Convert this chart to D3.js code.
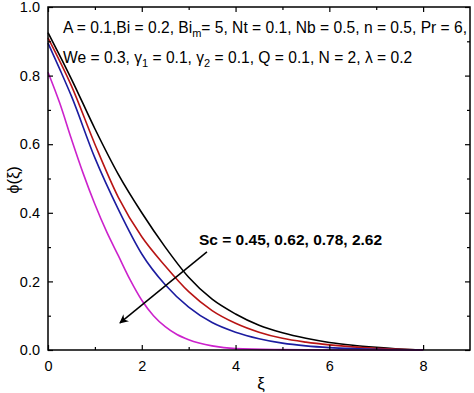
<!DOCTYPE html>
<html>
<head>
<meta charset="utf-8">
<script src="https://cdn.jsdelivr.net/npm/d3@7"></script>
<style>
  body { margin: 0; background: #fff; }
  svg { display: block; font-family: Arial, "Liberation Sans", sans-serif; }
</style>
</head>
<body>
<svg width="474" height="393"></svg>
<script>
// values: phi(xi) for each Sc
var scValues = ['0.45', '0.62', '0.78', '2.62'];
var colors = ['#000000', '#b81414', '#1c1ca0', '#cc22cc'];

var xiBlack = [0, 0.3, 0.5, 1.0, 1.5, 2.0, 2.5, 3.0, 3.5, 4.0, 4.5, 5.0, 5.5, 6.0, 6.5, 7.0, 7.5, 8.0];
var phiBlack = [0.925, 0.845, 0.79, 0.645, 0.512, 0.400, 0.300, 0.212, 0.148, 0.105, 0.072, 0.050, 0.034, 0.022, 0.014, 0.008, 0.003, 0];

var xiRed = [0, 0.5, 1.0, 1.5, 2.0, 2.5, 3.0, 3.5, 4.0, 4.5, 5.0, 5.5, 6.0, 6.5, 7.0, 7.5, 8.0];
var phiRed = [0.91, 0.77, 0.60, 0.445, 0.33, 0.245, 0.17, 0.115, 0.078, 0.052, 0.034, 0.023, 0.015, 0.009, 0.005, 0.002, 0];

var xiBlue = [0, 0.26, 0.5, 1.0, 1.5, 2.0, 2.5, 3.0, 3.5, 4.0, 4.5, 5.0, 5.5, 6.0, 6.5, 7.0, 8.0];
var phiBlue = [0.895, 0.816, 0.74, 0.56, 0.41, 0.28, 0.19, 0.125, 0.08, 0.052, 0.033, 0.02, 0.012, 0.007, 0.004, 0.002, 0];

var xiMag = [0, 0.25, 0.5, 0.75, 1.0, 1.25, 1.5, 1.75, 2.0, 2.25, 2.5, 2.75, 3.0, 3.5, 4.0, 5.0, 6.0, 8.0];
var phiMag = [0.81, 0.72, 0.615, 0.515, 0.425, 0.345, 0.275, 0.205, 0.145, 0.10, 0.068, 0.045, 0.03, 0.012, 0.004, 0.001, 0, 0];

var xTicks = [0, 2, 4, 6, 8];
var yTicks = [0.0, 0.2, 0.4, 0.6, 0.8, 1.0];

var series = [
  {xi: xiBlack, phi: phiBlack},
  {xi: xiRed, phi: phiRed},
  {xi: xiBlue, phi: phiBlue},
  {xi: xiMag, phi: phiMag}
];

var svg = d3.select('svg');
var mLeft = 48, mRight = 470, mTop = 7, mBottom = 350;

var x = d3.scaleLinear().domain([0, 9]).range([mLeft, mRight]);
var y = d3.scaleLinear().domain([0, 1]).range([mBottom, mTop]);

// curves
var line = d3.line()
  .x(function(d) { return x(d[0]); })
  .y(function(d) { return y(d[1]); })
  .curve(d3.curveMonotoneX);

svg.selectAll('.curve')
  .data(series)
  .enter()
  .append('path')
  .attr('class', 'curve')
  .attr('fill', 'none')
  .attr('stroke', function(d, i) { return colors[i]; })
  .attr('stroke-width', 1.6)
  .attr('d', function(d) {
    return line(d.xi.map(function(v, i) { return [v, d.phi[i]]; }));
  });

// axes with inward ticks, mirrored on top/right
var minorX = d3.range(1, 9, 2);
var minorY = [0.1, 0.3, 0.5, 0.7, 0.9];

function addAxis(axis, tx, ty, showLabels) {
  var g = svg.append('g').attr('transform', 'translate(' + tx + ',' + ty + ')').call(axis);
  g.select('.domain').remove();
  g.selectAll('line').attr('stroke', '#000').attr('stroke-width', 1.2);
  g.selectAll('text')
    .style('font-size', '14.5px')
    .style('font-family', 'Arial, "Liberation Sans", sans-serif')
    .attr('fill', '#000');
  if (!showLabels) g.selectAll('text').remove();
  return g;
}

addAxis(d3.axisBottom(x).tickValues(xTicks).tickSize(-5).tickPadding(11).tickFormat(d3.format('d')), 0, mBottom, true);
addAxis(d3.axisBottom(x).tickValues(minorX).tickSize(-3), 0, mBottom, false);
addAxis(d3.axisTop(x).tickValues(xTicks).tickSize(-5), 0, mTop, false);
addAxis(d3.axisTop(x).tickValues(minorX).tickSize(-3), 0, mTop, false);
addAxis(d3.axisLeft(y).tickValues(yTicks).tickSize(-5).tickPadding(8).tickFormat(d3.format('.1f')), mLeft, 0, true);
addAxis(d3.axisLeft(y).tickValues(minorY).tickSize(-3), mLeft, 0, false);
addAxis(d3.axisRight(y).tickValues(yTicks).tickSize(-5), mRight, 0, false);
addAxis(d3.axisRight(y).tickValues(minorY).tickSize(-3), mRight, 0, false);

svg.append('rect')
  .attr('x', mLeft).attr('y', mTop)
  .attr('width', mRight - mLeft).attr('height', mBottom - mTop)
  .attr('fill', 'none').attr('stroke', '#000').attr('stroke-width', 1.5);

// axis titles
svg.append('text')
  .attr('x', (mLeft + mRight) / 2 + 2).attr('y', 389)
  .attr('text-anchor', 'middle')
  .style('font-size', '17px')
  .text('ξ');

svg.append('text')
  .attr('transform', 'translate(19,' + 180 + ') rotate(-90)')
  .attr('text-anchor', 'middle')
  .style('font-size', '16.5px')
  .text('ϕ(ξ)');

// parameter text
var p1 = svg.append('text').attr('x', 63).attr('y', 33).style('font-size', '15.6px');
p1.append('tspan').text('A = 0.1,Bi = 0.2, Bi');
p1.append('tspan').attr('dy', 4).style('font-size', '11px').text('m');
p1.append('tspan').attr('dy', -4).text('= 5, Nt = 0.1, Nb = 0.5, n = 0.5, Pr = 6,');

var p2 = svg.append('text').attr('x', 63).attr('y', 63).style('font-size', '15.6px');
p2.append('tspan').text('We = 0.3, γ');
p2.append('tspan').attr('dy', 4).style('font-size', '11px').text('1');
p2.append('tspan').attr('dy', -4).text(' = 0.1, γ');
p2.append('tspan').attr('dy', 4).style('font-size', '11px').text('2');
p2.append('tspan').attr('dy', -4).text(' = 0.1, Q = 0.1, N = 2, λ = 0.2');

// Sc annotation with arrow
svg.append('text')
  .attr('x', x(3.22)).attr('y', y(0.305))
  .style('font-size', '15.5px')
  .style('font-weight', 'bold')
  .text('Sc = ' + scValues.join(', '));

svg.append('defs').append('marker')
  .attr('id', 'head')
  .attr('viewBox', '0 0 10 10')
  .attr('refX', 9).attr('refY', 5)
  .attr('markerWidth', 9).attr('markerHeight', 9)
  .attr('markerUnits', 'userSpaceOnUse')
  .attr('orient', 'auto')
  .append('path')
  .attr('d', 'M0,0 L10,5 L0,10 L3,5 z')
  .attr('fill', '#000');

svg.append('line')
  .attr('x1', x(3.39)).attr('y1', y(0.286))
  .attr('x2', x(1.535)).attr('y2', y(0.079))
  .attr('stroke', '#000').attr('stroke-width', 1.5)
  .attr('marker-end', 'url(#head)');
</script>
</body>
</html>
